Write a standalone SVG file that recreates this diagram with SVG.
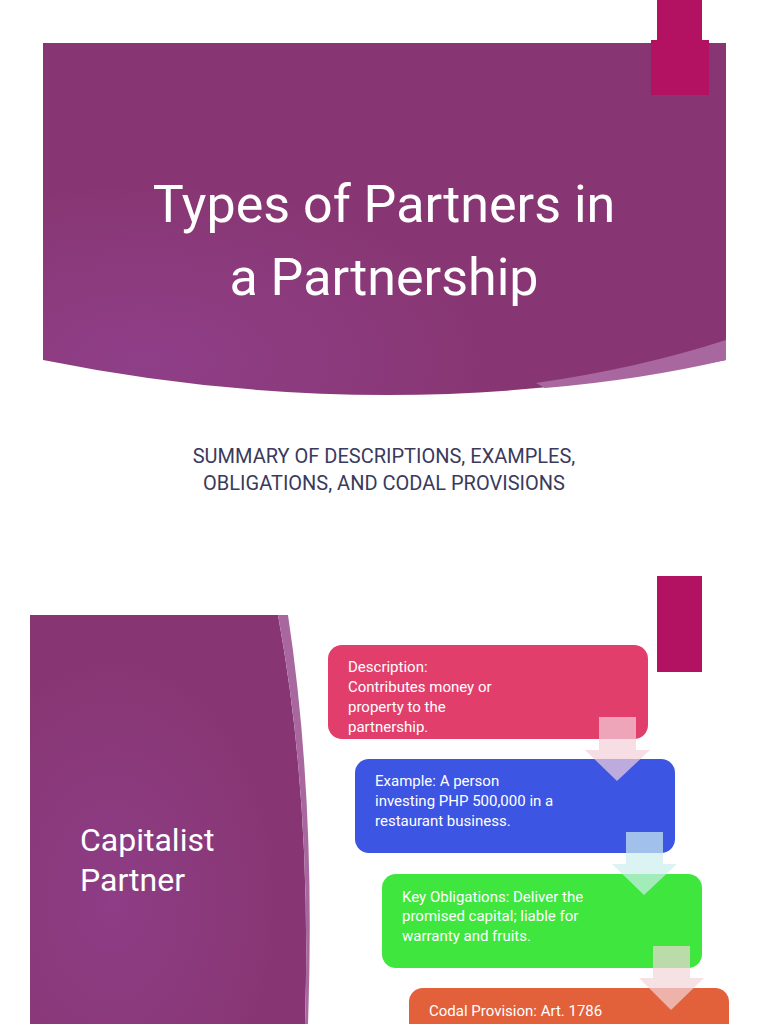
<svg xmlns="http://www.w3.org/2000/svg" width="768" height="1024" viewBox="0 0 768 1024">
<defs>
<radialGradient id="g1" cx="0.15" cy="0.9" r="0.5"><stop offset="0" stop-color="#8f3f88"/><stop offset="1" stop-color="#883673"/></radialGradient>
<radialGradient id="g2" cx="0.3" cy="0.7" r="0.6"><stop offset="0" stop-color="#8e3d86"/><stop offset="1" stop-color="#883673"/></radialGradient>
<style>
.t{font-family:Roboto,"Liberation Sans",sans-serif;fill:#fff}
.b{font-size:15px}
.box{stroke:none}
.arr{opacity:0.7}
</style>
</defs>
<rect width="768" height="1024" fill="#fff"/>
<g id="banner">
<path d="M43 43 H726 V360 Q390 430 43 360 Z" fill="url(#g1)"/>
<path d="M536 383 Q640 368 726 340 V360 Q640 380 545 388 Z" fill="#a8689f"/>
<rect x="657" y="0" width="45" height="95" fill="#b31262"/>
<rect x="651" y="40" width="58" height="55" fill="#b31262"/>
<text class="t" x="384" y="222" font-size="52" text-anchor="middle">Types of Partners in</text>
<text class="t" x="384" y="295" font-size="52" text-anchor="middle">a Partnership</text>
</g>
<g id="subtitle">
<text x="384" y="463" font-family="Roboto,'Liberation Sans',sans-serif" font-size="20" fill="#3a3a5c" text-anchor="middle">SUMMARY OF DESCRIPTIONS, EXAMPLES,</text>
<text x="384" y="490" font-family="Roboto,'Liberation Sans',sans-serif" font-size="20" fill="#3a3a5c" text-anchor="middle">OBLIGATIONS, AND CODAL PROVISIONS</text>
</g>
<g id="panel">
<path d="M30 615 H278 Q312 800 305 1024 H30 Z" fill="url(#g2)"/>
<path d="M278 615 H288 Q316 800 308 1024 H305 Q312 800 278 615 Z" fill="#a8689f"/>
<text class="t" x="80" y="851" font-size="32">Capitalist</text>
<text class="t" x="80" y="891" font-size="32">Partner</text>
</g>
<g id="tab2"><rect x="657" y="576" width="45" height="96" fill="#b31262"/></g>
<g id="box1"><rect class="box" x="328" y="645" width="320" height="94" rx="14" fill="#e23e6b"/>
<text class="t b" x="348" y="672">Description:</text><text class="t b" x="348" y="692">Contributes money or</text><text class="t b" x="348" y="712">property to the</text><text class="t b" x="348" y="732">partnership.</text></g>
<g id="box2"><rect class="box" x="355" y="759" width="320" height="94" rx="14" fill="#3c55e3"/>
<text class="t b" x="375" y="786">Example: A person</text><text class="t b" x="375" y="806">investing PHP 500,000 in a</text><text class="t b" x="375" y="826">restaurant business.</text></g>
<g id="box3"><rect class="box" x="382" y="874" width="320" height="94" rx="14" fill="#3ee63e"/>
<text class="t b" x="402" y="902">Key Obligations: Deliver the</text><text class="t b" x="402" y="921">promised capital; liable for</text><text class="t b" x="402" y="941">warranty and fruits.</text></g>
<g id="box4"><rect class="box" x="409" y="988" width="320" height="60" rx="14" fill="#e2603a"/>
<text class="t b" x="429" y="1016">Codal Provision: Art. 1786</text></g>
<g id="connectors">
<path class="arr" d="M599 717 H636 V750 H650 L617 781 L585 750 H599 Z" fill="#f4d0da"/>
<path class="arr" d="M626 832 H663 V864 H677 L644 895 L612 864 H626 Z" fill="#cdeef0"/>
<path class="arr" d="M653 946 H690 V978 H704 L671 1010 L639 978 H653 Z" fill="#f2d6d8"/>
</g>
</svg>
